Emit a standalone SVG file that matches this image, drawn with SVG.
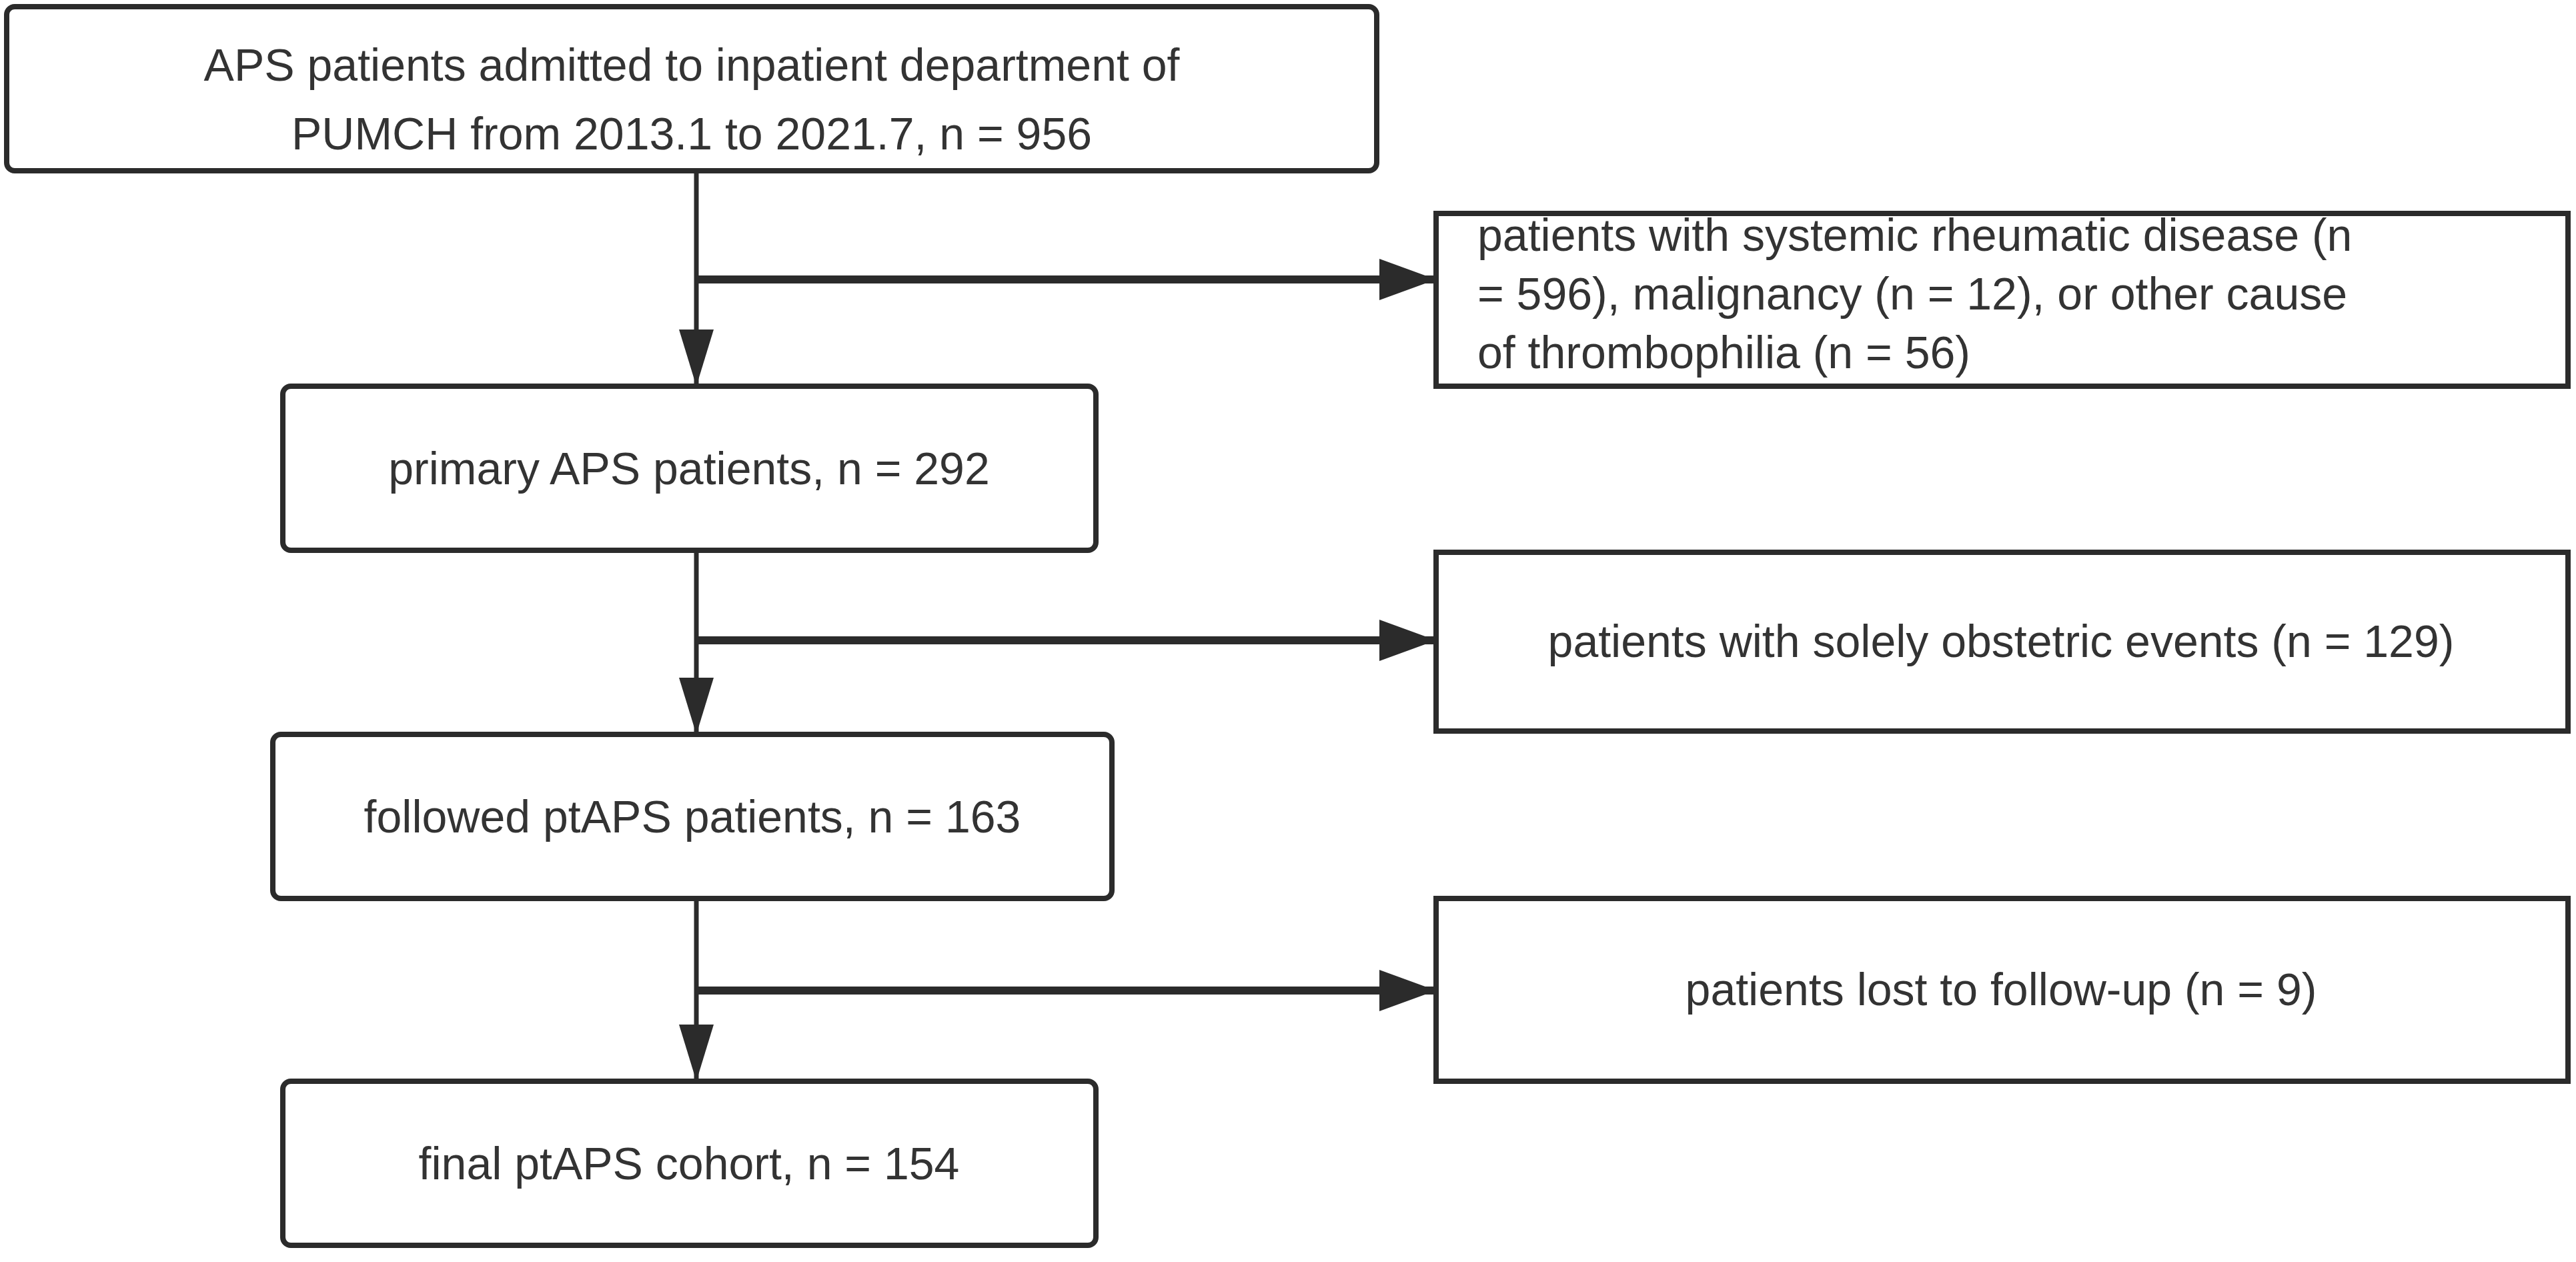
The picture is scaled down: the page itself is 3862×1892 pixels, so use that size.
<svg xmlns="http://www.w3.org/2000/svg" width="3862" height="1892" viewBox="0 0 3862 1892">
<style>
.b{fill:#fff;stroke:#2b2b2b;stroke-width:8}
.t{font-family:"Liberation Sans",Arial,sans-serif;font-size:68px;fill:#333;text-anchor:middle}
.s{text-anchor:start}
.c{stroke:#2b2b2b;fill:none}
</style>
<defs>
<marker id="ahv" viewBox="0 0 10 10" refX="10" refY="5" markerWidth="85" markerHeight="52" markerUnits="userSpaceOnUse" orient="auto" preserveAspectRatio="none"><path d="M0,0 L10,5 L0,10 Z" fill="#2b2b2b"/></marker>
<marker id="ahh" viewBox="0 0 10 10" refX="10" refY="5" markerWidth="85" markerHeight="62" markerUnits="userSpaceOnUse" orient="auto" preserveAspectRatio="none"><path d="M0,0 L10,5 L0,10 Z" fill="#2b2b2b"/></marker>
</defs>
<rect width="3862" height="1892" fill="#fff"/>
<g id="connectors">
<path class="c" stroke-width="7" d="M1044,256 V579" marker-end="url(#ahv)"/>
<path class="c" stroke-width="12" d="M1044,419 H2153" marker-end="url(#ahh)"/>
<path class="c" stroke-width="7" d="M1044,825 V1101" marker-end="url(#ahv)"/>
<path class="c" stroke-width="12" d="M1044,960 H2153" marker-end="url(#ahh)"/>
<path class="c" stroke-width="7" d="M1044,1347 V1621" marker-end="url(#ahv)"/>
<path class="c" stroke-width="12" d="M1044,1485 H2153" marker-end="url(#ahh)"/>
</g>
<g id="n1"><rect class="b" x="10" y="10" width="2054" height="246" rx="12"/>
<text class="t" x="1037" y="121">APS patients admitted to inpatient department of</text>
<text class="t" x="1037" y="224">PUMCH from 2013.1 to 2021.7, n = 956</text></g>
<g id="n2"><rect class="b" x="2153" y="320" width="1697" height="259"/>
<text class="t s"><tspan x="2215" y="376">patients with systemic rheumatic disease (n</tspan><tspan x="2215" y="464">= 596), malignancy (n = 12), or other cause</tspan><tspan x="2215" y="552">of thrombophilia (n = 56)</tspan></text></g>
<g id="n3"><rect class="b" x="424" y="579" width="1219" height="246" rx="12"/>
<text class="t" x="1033" y="726">primary APS patients, n = 292</text></g>
<g id="n4"><rect class="b" x="2153" y="828" width="1697" height="268"/>
<text class="t" x="3000" y="985">patients with solely obstetric events (n = 129)</text></g>
<g id="n5"><rect class="b" x="409" y="1101" width="1258" height="246" rx="12"/>
<text class="t" x="1038" y="1248">followed ptAPS patients, n = 163</text></g>
<g id="n6"><rect class="b" x="2153" y="1347" width="1697" height="274"/>
<text class="t" x="3000" y="1507">patients lost to follow-up (n = 9)</text></g>
<g id="n7"><rect class="b" x="424" y="1621" width="1219" height="246" rx="12"/>
<text class="t" x="1033" y="1768">final ptAPS cohort, n = 154</text></g>
</svg>
